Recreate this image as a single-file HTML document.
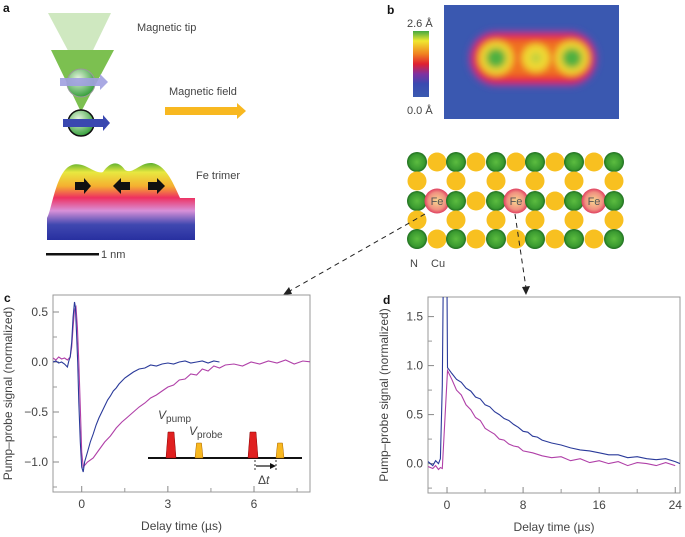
<!DOCTYPE html>
<html><head><meta charset="utf-8">
<style>
body{margin:0;background:#fff;}
svg{display:block;font-family:"Liberation Sans",sans-serif;}
.t{fill:#444;font-size:11px;}
.tk{fill:#444;font-size:12px;}
.lab{font-weight:bold;font-size:12px;fill:#111;}
</style></head>
<body>
<svg id="fig" width="685" height="537" viewBox="0 0 685 537">
<defs>
<linearGradient id="trim" x1="0" y1="0" x2="0" y2="1">
<stop offset="0" stop-color="#5cb030"/><stop offset="0.12" stop-color="#e8e840"/><stop offset="0.3" stop-color="#f5b030"/><stop offset="0.45" stop-color="#ee3060"/><stop offset="0.62" stop-color="#d890d8"/><stop offset="0.8" stop-color="#4048b0"/><stop offset="1" stop-color="#2830a0"/></linearGradient>
<linearGradient id="cbar" x1="0" y1="0" x2="0" y2="1">
<stop offset="0" stop-color="#44a840"/><stop offset="0.15" stop-color="#f0e830"/><stop offset="0.35" stop-color="#f08020"/><stop offset="0.5" stop-color="#e02030"/><stop offset="0.65" stop-color="#8030a0"/><stop offset="0.8" stop-color="#3a4ab0"/><stop offset="1" stop-color="#3a5ab0"/></linearGradient>
<radialGradient id="sph" cx="0.4" cy="0.35" r="0.7"><stop offset="0" stop-color="#e8f5e0"/><stop offset="1" stop-color="#2a9a30"/></radialGradient>
<radialGradient id="gn" cx="0.5" cy="0.5" r="0.5"><stop offset="0" stop-color="#5cbc40"/><stop offset="0.75" stop-color="#3a9a30"/><stop offset="1" stop-color="#1f6e20"/></radialGradient>
<radialGradient id="fe" cx="0.5" cy="0.5" r="0.5"><stop offset="0" stop-color="#f8d890"/><stop offset="0.7" stop-color="#f09080"/><stop offset="1" stop-color="#e04060"/></radialGradient>
<filter id="blur" x="-30%" y="-30%" width="160%" height="160%"><feGaussianBlur stdDeviation="3.5"/></filter>
<clipPath id="clipC"><rect x="53" y="295" width="257" height="197"/></clipPath>
<clipPath id="clipD"><rect x="428" y="297" width="252" height="196"/></clipPath>
<clipPath id="clipH"><rect x="444" y="5" width="175" height="114"/></clipPath>
</defs>

<text x="3" y="12" class="lab">a</text>
<polygon points="48,13 111,13 81,75" fill="#cfe8c0"/>
<polygon points="51,50 114,50 81,112" fill="#7cc050"/>
<circle cx="81" cy="83" r="14" fill="url(#sph)" stroke="#999" stroke-width="1"/>
<polygon points="60,78 100,78 100,74 108,82 100,90 100,86 60,86" fill="#a0a0e0" opacity="0.9"/>
<circle cx="81" cy="123" r="13" fill="url(#sph)" stroke="#111" stroke-width="1.5"/>
<polygon points="63,119 103,119 103,115 110,123 103,131 103,127 63,127" fill="#3a48b0"/>
<text x="137" y="31" class="t">Magnetic tip</text>
<text x="169" y="95" class="t">Magnetic field</text>
<polygon points="165,107 237,107 237,103 246,111 237,119 237,115 165,115" fill="#f8b820"/>
<path d="M47,240 L47,218 C52,210 56,170 72,165 C85,161 95,175 103,172 C110,162 118,160 125,170 C133,175 140,162 152,163 C165,165 172,180 180,198 L195,198 L195,240 Z" fill="url(#trim)"/>
<g fill="#111">
<polygon points="75,182 84,182 84,178 91,186 84,194 84,190 75,190"/>
<polygon points="130,182 121,182 121,178 113,186 121,194 121,190 130,190"/>
<polygon points="148,182 157,182 157,178 165,186 157,194 157,190 148,190"/>
</g>
<text x="196" y="179" class="t">Fe trimer</text>
<rect x="46" y="253" width="53" height="2.5" fill="#111"/>
<text x="101" y="258" class="t">1 nm</text>

<text x="387" y="14" class="lab">b</text>
<text x="407" y="27" class="t">2.6 Å</text>
<rect x="413" y="31" width="16" height="66" fill="url(#cbar)"/>
<text x="407" y="114" class="t">0.0 Å</text>
<rect x="444" y="5" width="175" height="114" fill="#3a58b0"/>
<g clip-path="url(#clipH)" filter="url(#blur)">
<rect x="468" y="30" width="130" height="57" rx="28" fill="#8040a8"/>
<rect x="472" y="34" width="122" height="49" rx="24" fill="#e82030"/>
<rect x="478" y="40" width="110" height="36" rx="18" fill="#f07020"/>
<circle cx="496" cy="58" r="17" fill="#f0d830"/><circle cx="536" cy="58" r="14" fill="#f0d830"/><circle cx="572" cy="58" r="17" fill="#f0d830"/>
<circle cx="496" cy="58" r="10" fill="#50b040"/><circle cx="536" cy="58" r="5" fill="#b8d040"/><circle cx="572" cy="58" r="10" fill="#50b040"/>
</g>
<g id="lattice"></g>
<text x="410" y="267" class="t">N</text>
<text x="431" y="267" class="t">Cu</text>
<line x1="425" y1="214" x2="288" y2="292" stroke="#222" stroke-dasharray="5,4"/>
<polygon points="283,295 289,287 292,294" fill="#222"/>
<line x1="515" y1="214" x2="526" y2="288" stroke="#222" stroke-dasharray="5,4"/>
<polygon points="526,295 522,287 530,286" fill="#222"/>

<text x="4" y="302" class="lab">c</text>
<g id="chartC"></g>
<text x="383" y="304" class="lab">d</text>
<g id="chartD"></g>
</svg>
<script>
const NS="http://www.w3.org/2000/svg";
function mk(p,tag,at){const e=document.createElementNS(NS,tag);for(const k in at)e.setAttribute(k,at[k]);p.appendChild(e);return e;}

const lat=document.getElementById('lattice');
const cols=[417,437,456,476,496,516,535,555,574,594,614];
const rows=[162,181,201,220,239];
const feCols=[1,5,9];
rows.forEach((y,ri)=>{cols.forEach((x,ci)=>{
  let kind=null;
  if(ri%2===0){kind=(ci%2===0)?'N':'Cu'; if(ri===2&&feCols.includes(ci))kind='Fe';}
  else {kind=(ci%2===0)?'Cu':null;}
  if(!kind)return;
  let c;
  if(kind==='N'){c=mk(lat,'circle',{cx:x,cy:y,r:10,fill:'url(#gn)'});}
  else if(kind==='Cu'){c=mk(lat,'circle',{cx:x,cy:y,r:9.5,fill:'#f8c020'});}
  else {c=mk(lat,'circle',{cx:x,cy:y,r:12.5,fill:'url(#fe)'});
    const t=mk(lat,'text',{x:x,y:y+4,'text-anchor':'middle','font-size':'11',fill:'#555'});t.textContent='Fe';
    
    }
  
  
});});

const cBlueT=[-1,-0.9,-0.8,-0.7,-0.6,-0.5,-0.45,-0.4,-0.35,-0.3,-0.25,-0.22,-0.18,-0.14,-0.1,-0.05,0,0.05,0.1,0.2,0.3,0.4,0.5,0.6,0.7,0.8,0.9,1.0,1.1,1.2,1.3,1.4,1.5,1.6,1.8,2.0,2.2,2.4,2.6,2.8,3.0,3.2,3.4,3.6,3.8,4.0,4.2,4.4,4.6,4.8];
const cBlueV=[0.0,0.01,-0.01,0.0,-0.02,-0.05,0.01,0.05,0.2,0.45,0.6,0.55,0.3,0.0,-0.4,-0.8,-1.05,-1.1,-1.0,-0.9,-0.8,-0.72,-0.63,-0.56,-0.5,-0.44,-0.38,-0.34,-0.29,-0.26,-0.22,-0.19,-0.16,-0.14,-0.1,-0.07,-0.06,-0.03,-0.04,-0.02,-0.01,-0.02,0.0,0.01,-0.01,0.0,0.01,-0.01,0.01,0.0];
const cMagT=[-1,-0.9,-0.8,-0.7,-0.6,-0.5,-0.4,-0.35,-0.3,-0.25,-0.2,-0.15,-0.1,-0.05,0,0.05,0.2,0.4,0.6,0.8,1.0,1.2,1.4,1.6,1.8,2.0,2.2,2.4,2.6,2.8,3.0,3.2,3.4,3.6,3.8,4.0,4.2,4.4,4.6,4.8,5.0,5.3,5.6,5.9,6.2,6.5,6.8,7.1,7.4,7.7,8.0];
const cMagV=[0.04,0.02,0.05,0.03,0.04,0.02,0.05,0.15,0.35,0.52,0.55,0.35,0.0,-0.45,-0.9,-1.05,-1.0,-0.96,-0.88,-0.8,-0.74,-0.66,-0.6,-0.55,-0.5,-0.45,-0.41,-0.36,-0.33,-0.29,-0.25,-0.23,-0.18,-0.17,-0.12,-0.13,-0.07,-0.09,-0.04,-0.06,-0.03,-0.02,-0.04,0.0,-0.02,0.01,-0.01,0.02,-0.02,0.01,0.0];
const cXTicks=[0,3,6];
const cYTicks=[0.5,0.0,-0.5,-1.0];
const cYLabels=["0.5","0.0","−0.5","−1.0"];

const dBlueT=[-2,-1.5,-1.2,-0.9,-0.7,-0.5,-0.4,-0.3,0,0.05,0.5,1,1.5,2,2.5,3,3.5,4,4.5,5,5.5,6,6.5,7,7.5,8,8.5,9,9.5,10,11,12,13,14,15,16,17,18,19,20,21,22,23,24,24.5];
const dBlueV=[0.02,-0.02,0.03,0.0,0.05,0.8,1.8,1.8,1.8,0.98,0.92,0.86,0.83,0.77,0.74,0.68,0.66,0.6,0.58,0.53,0.5,0.46,0.44,0.4,0.37,0.33,0.32,0.28,0.27,0.24,0.21,0.19,0.16,0.14,0.13,0.11,0.09,0.09,0.06,0.07,0.05,0.04,0.05,0.02,0.0];
const dMagT=[-2,-1.5,-1.2,-0.9,-0.7,-0.5,0.05,0.5,1,1.5,2,2.5,3,3.5,4,4.5,5,5.5,6,6.5,7,7.5,8,9,10,11,12,13,14,15,16,17,18,19,20,21,22,23,24];
const dMagV=[-0.03,-0.05,-0.02,-0.06,-0.04,-0.05,0.95,0.86,0.75,0.7,0.6,0.55,0.47,0.44,0.36,0.33,0.3,0.25,0.24,0.2,0.18,0.17,0.13,0.11,0.08,0.06,0.07,0.03,0.05,0.01,0.03,0.0,0.02,-0.02,0.01,0.0,-0.02,0.01,-0.02];
const dXTicks=[0,8,16,24];
const dYTicks=[1.5,1.0,0.5,0.0];
const dYLabels=["1.5","1.0","0.5","0.0"];

function chart(g,box,xr,yr,series,xt,yt,ylab,clip,minorX,minorY,ytitleX){
  const X=t=>box.x+(t-xr[0])/(xr[1]-xr[0])*box.w;
  const Y=v=>box.y+(yr[1]-v)/(yr[1]-yr[0])*box.h;
  const fr=mk(g,'rect',{x:box.x,y:box.y,width:box.w,height:box.h,fill:'none',stroke:'#999','stroke-width':1});
  
  
  minorX.forEach(t=>{const l=mk(g,'line',{x1:X(t),x2:X(t),y1:box.y+box.h,y2:box.y+box.h-4,stroke:'#999'});
    
    });
  minorY.forEach(v=>{const l=mk(g,'line',{x1:box.x,x2:box.x+4,y1:Y(v),y2:Y(v),stroke:'#999'});
    
    });
  xt.forEach(t=>{const l=mk(g,'line',{x1:X(t),x2:X(t),y1:box.y+box.h,y2:box.y+box.h-6,stroke:'#888'});
    
    
    const tx=mk(g,'text',{x:X(t),y:box.y+box.h+16,'text-anchor':'middle',class:'tk'});tx.textContent=String(t);
    
    });
  yt.forEach((v,i)=>{const l=mk(g,'line',{x1:box.x,x2:box.x+6,y1:Y(v),y2:Y(v),stroke:'#888'});
    
    
    const tx=mk(g,'text',{x:box.x-5,y:Y(v)+4,'text-anchor':'end',class:'tk'});tx.textContent=ylab[i];
    
    });
  const xt2=mk(g,'text',{x:box.x+box.w/2,y:box.y+box.h+38,'text-anchor':'middle',class:'tk'});xt2.textContent='Delay time (µs)';
  
  
  const cy=box.y+box.h/2;
  const yt2=mk(g,'text',{x:ytitleX,y:cy,'text-anchor':'middle',class:'tk',transform:`rotate(-90 ${ytitleX} ${cy})`});yt2.textContent='Pump–probe signal (normalized)';
  
  
  const sg=mk(g,'g',{'clip-path':`url(#${clip})`});
  series.forEach(s=>{
    const d=s.t.map((t,i)=>(i?'L':'M')+X(t).toFixed(1)+','+Y(s.v[i]).toFixed(1)).join(' ');
    const p=mk(sg,'path',{d:d,fill:'none',stroke:s.c,'stroke-width':1.1});
    
    
  });
  return {X,Y};
}
const gc=document.getElementById('chartC');
chart(gc,{x:53,y:295,w:257,h:197},[-1,7.95],[-1.3,0.67],
 [{t:cMagT,v:cMagV,c:'#b040a8',n:'series-magenta'},{t:cBlueT,v:cBlueV,c:'#2a3a9a',n:'series-blue'}],
 cXTicks,cYTicks,cYLabels,'clipC',[1.5,4.5,7.5],[0.25,-0.25,-0.75,-1.25],12);
const ins=mk(gc,'g',{});


mk(ins,'line',{x1:148,x2:302,y1:458,y2:458,stroke:'#111','stroke-width':2});
[[171,'#e02020',26],[253,'#e02020',26]].forEach(([x,c,h])=>mk(ins,'polygon',{points:`${x-3},${458-h} ${x+3},${458-h} ${x+5},458 ${x-5},458`,fill:c,stroke:'#800','stroke-width':0.5}));
[[199,'#f8b820',15],[280,'#f8b820',15]].forEach(([x,c,h])=>mk(ins,'polygon',{points:`${x-2.5},${458-h} ${x+2.5},${458-h} ${x+4},458 ${x-4},458`,fill:c,stroke:'#a60','stroke-width':0.5}));
mk(ins,'line',{x1:255,x2:255,y1:460,y2:470,stroke:'#333','stroke-dasharray':'2,2'});
mk(ins,'line',{x1:276,x2:276,y1:460,y2:470,stroke:'#333','stroke-dasharray':'2,2'});
mk(ins,'line',{x1:256,x2:271,y1:466,y2:466,stroke:'#111','stroke-width':1.2});
mk(ins,'polygon',{points:'276,466 270,463 270,469',fill:'#111'});
const vp=mk(ins,'text',{x:158,y:419,class:'tk','font-style':'italic'});vp.innerHTML='V<tspan font-size="10" font-style="normal" dy="3">pump</tspan>';
const vb=mk(ins,'text',{x:189,y:435,class:'tk','font-style':'italic'});vb.innerHTML='V<tspan font-size="10" font-style="normal" dy="3">probe</tspan>';
const dt=mk(ins,'text',{x:258,y:484,class:'tk'});dt.innerHTML='Δ<tspan font-style="italic">t</tspan>';

const gd=document.getElementById('chartD');
chart(gd,{x:428,y:297,w:252,h:196},[-2,24.5],[-0.3,1.7],
 [{t:dMagT,v:dMagV,c:'#b040a8',n:'series-magenta'},{t:dBlueT,v:dBlueV,c:'#2a3a9a',n:'series-blue'}],
 dXTicks,dYTicks,dYLabels,'clipD',[4,12,20],[1.25,0.75,0.25,-0.25],388);
</script>
</body></html>
